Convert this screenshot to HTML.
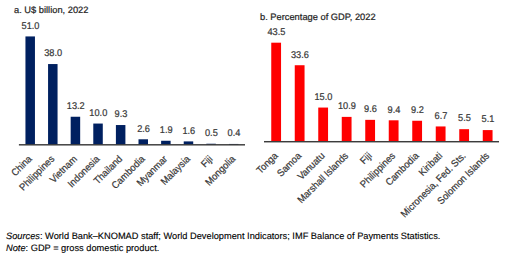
<!DOCTYPE html>
<html><head><meta charset="utf-8"><style>
html,body{margin:0;padding:0;background:#fff;width:516px;height:276px;overflow:hidden}
svg{position:absolute;left:0;top:0}
text{font-family:"Liberation Sans",sans-serif;text-rendering:geometricPrecision;stroke-width:0.22px}
.t{font-size:9.3px;fill:#262626;stroke:#262626}
.v{font-size:9.8px;fill:#383838;stroke:#383838}
.c{font-size:9.9px;fill:#383838;stroke:#383838}
.f{font-size:9.25px;fill:#000;stroke:#000;stroke-width:0.12px}
</style></head><body>
<svg width="516" height="276" viewBox="0 0 516 276">
<text x="14" y="13.2" class="t">a. U$ billion, 2022</text>
<text x="260" y="20.1" class="t">b. Percentage of GDP, 2022</text>
<rect x="25.45" y="36.43" width="9.50" height="108.38" fill="#002060"/>
<text transform="translate(30.50,28.73) scale(0.94,1)" text-anchor="middle" class="v">51.0</text>
<text transform="translate(32.41,159.50) rotate(-45) scale(0.94,1)" text-anchor="end" class="c">China</text>
<rect x="48.06" y="64.05" width="9.50" height="80.75" fill="#002060"/>
<text transform="translate(53.11,56.35) scale(0.94,1)" text-anchor="middle" class="v">38.0</text>
<text transform="translate(55.02,159.50) rotate(-45) scale(0.94,1)" text-anchor="end" class="c">Philippines</text>
<rect x="70.67" y="116.75" width="9.50" height="28.05" fill="#002060"/>
<text transform="translate(75.72,109.05) scale(0.94,1)" text-anchor="middle" class="v">13.2</text>
<text transform="translate(77.62,159.50) rotate(-45) scale(0.94,1)" text-anchor="end" class="c">Vietnam</text>
<rect x="93.28" y="123.55" width="9.50" height="21.25" fill="#002060"/>
<text transform="translate(98.33,115.85) scale(0.94,1)" text-anchor="middle" class="v">10.0</text>
<text transform="translate(100.23,159.50) rotate(-45) scale(0.94,1)" text-anchor="end" class="c">Indonesia</text>
<rect x="115.90" y="125.04" width="9.50" height="19.76" fill="#002060"/>
<text transform="translate(120.95,117.34) scale(0.94,1)" text-anchor="middle" class="v">9.3</text>
<text transform="translate(122.85,159.50) rotate(-45) scale(0.94,1)" text-anchor="end" class="c">Thailand</text>
<rect x="138.50" y="139.28" width="9.50" height="5.53" fill="#002060"/>
<text transform="translate(143.56,131.58) scale(0.94,1)" text-anchor="middle" class="v">2.6</text>
<text transform="translate(145.45,159.50) rotate(-45) scale(0.94,1)" text-anchor="end" class="c">Cambodia</text>
<rect x="161.12" y="140.76" width="9.50" height="4.04" fill="#002060"/>
<text transform="translate(166.17,133.06) scale(0.94,1)" text-anchor="middle" class="v">1.9</text>
<text transform="translate(168.06,159.50) rotate(-45) scale(0.94,1)" text-anchor="end" class="c">Myanmar</text>
<rect x="183.72" y="141.40" width="9.50" height="3.40" fill="#002060"/>
<text transform="translate(188.78,133.70) scale(0.94,1)" text-anchor="middle" class="v">1.6</text>
<text transform="translate(190.67,159.50) rotate(-45) scale(0.94,1)" text-anchor="end" class="c">Malaysia</text>
<rect x="206.34" y="143.74" width="9.50" height="1.06" fill="#002060"/>
<text transform="translate(211.39,136.04) scale(0.94,1)" text-anchor="middle" class="v">0.5</text>
<text transform="translate(213.28,159.50) rotate(-45) scale(0.94,1)" text-anchor="end" class="c">Fiji</text>
<rect x="228.94" y="143.95" width="9.50" height="0.85" fill="#002060"/>
<text transform="translate(234.00,136.25) scale(0.94,1)" text-anchor="middle" class="v">0.4</text>
<text transform="translate(235.89,159.50) rotate(-45) scale(0.94,1)" text-anchor="end" class="c">Mongolia</text>
<rect x="18.9" y="144.08" width="226.1" height="1.45" fill="#3c3c3c"/>
<rect x="271.25" y="42.69" width="9.80" height="99.01" fill="#FF0000"/>
<text transform="translate(276.45,34.99) scale(0.94,1)" text-anchor="middle" class="v">43.5</text>
<text transform="translate(278.35,156.40) rotate(-45) scale(0.94,1)" text-anchor="end" class="c">Tonga</text>
<rect x="294.75" y="65.23" width="9.80" height="76.47" fill="#FF0000"/>
<text transform="translate(299.95,57.53) scale(0.94,1)" text-anchor="middle" class="v">33.6</text>
<text transform="translate(301.85,156.40) rotate(-45) scale(0.94,1)" text-anchor="end" class="c">Samoa</text>
<rect x="318.25" y="107.56" width="9.80" height="34.14" fill="#FF0000"/>
<text transform="translate(323.45,99.86) scale(0.94,1)" text-anchor="middle" class="v">15.0</text>
<text transform="translate(325.35,156.40) rotate(-45) scale(0.94,1)" text-anchor="end" class="c">Vanuatu</text>
<rect x="341.75" y="116.89" width="9.80" height="24.81" fill="#FF0000"/>
<text transform="translate(346.95,109.19) scale(0.94,1)" text-anchor="middle" class="v">10.9</text>
<text transform="translate(348.85,156.40) rotate(-45) scale(0.94,1)" text-anchor="end" class="c">Marshall Islands</text>
<rect x="365.25" y="119.85" width="9.80" height="21.85" fill="#FF0000"/>
<text transform="translate(370.45,112.15) scale(0.94,1)" text-anchor="middle" class="v">9.6</text>
<text transform="translate(372.35,156.40) rotate(-45) scale(0.94,1)" text-anchor="end" class="c">Fiji</text>
<rect x="388.75" y="120.31" width="9.80" height="21.39" fill="#FF0000"/>
<text transform="translate(393.95,112.61) scale(0.94,1)" text-anchor="middle" class="v">9.4</text>
<text transform="translate(395.85,156.40) rotate(-45) scale(0.94,1)" text-anchor="end" class="c">Philippines</text>
<rect x="412.25" y="120.76" width="9.80" height="20.94" fill="#FF0000"/>
<text transform="translate(417.45,113.06) scale(0.94,1)" text-anchor="middle" class="v">9.2</text>
<text transform="translate(419.35,156.40) rotate(-45) scale(0.94,1)" text-anchor="end" class="c">Cambodia</text>
<rect x="435.75" y="126.45" width="9.80" height="15.25" fill="#FF0000"/>
<text transform="translate(440.95,118.75) scale(0.94,1)" text-anchor="middle" class="v">6.7</text>
<text transform="translate(442.85,156.40) rotate(-45) scale(0.94,1)" text-anchor="end" class="c">Kiribati</text>
<rect x="459.25" y="129.18" width="9.80" height="12.52" fill="#FF0000"/>
<text transform="translate(464.45,121.48) scale(0.94,1)" text-anchor="middle" class="v">5.5</text>
<text transform="translate(466.35,156.40) rotate(-45) scale(0.94,1)" text-anchor="end" class="c">Micronesia, Fed. Sts.</text>
<rect x="482.75" y="130.09" width="9.80" height="11.61" fill="#FF0000"/>
<text transform="translate(487.95,122.39) scale(0.94,1)" text-anchor="middle" class="v">5.1</text>
<text transform="translate(489.85,156.40) rotate(-45) scale(0.94,1)" text-anchor="end" class="c">Solomon Islands</text>
<rect x="264.0" y="140.98" width="235.0" height="1.45" fill="#3c3c3c"/>
<text x="6" y="238.7" class="f"><tspan font-style="italic">Sources</tspan>: World Bank–KNOMAD staff; World Development Indicators; IMF Balance of Payments Statistics.</text>
<text x="6" y="251.2" class="f"><tspan font-style="italic">Note</tspan>: GDP = gross domestic product.</text>
</svg>
</body></html>
